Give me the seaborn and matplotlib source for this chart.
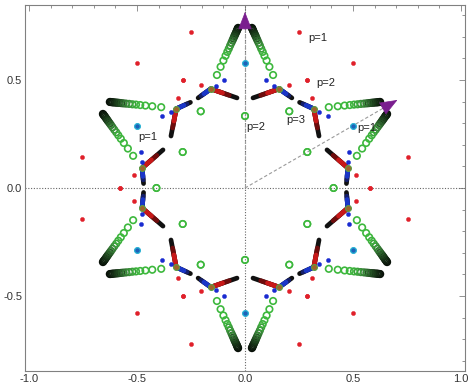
import numpy as np
import matplotlib
matplotlib.use("Agg")
import matplotlib.pyplot as plt
import seaborn as sns
from matplotlib.ticker import MultipleLocator

# ---------------- data (one 30-degree wedge, angles 60..90 deg) ----------------
# green trajectory arm (tip -> inward), dark near the tip
arm_x = [0.032, 0.034, 0.036, 0.038, 0.041, 0.044, 0.047, 0.050, 0.054,
         0.058, 0.063, 0.069, 0.075, 0.082, 0.090, 0.100, 0.113, 0.130]
arm_y = [0.741, 0.737, 0.732, 0.727, 0.721, 0.714, 0.708, 0.701, 0.692,
         0.683, 0.672, 0.659, 0.645, 0.630, 0.612, 0.590, 0.561, 0.523]
arm_colors = ["#080f08", "#0a140a", "#0c190c", "#0f1f0f", "#122612", "#152e15",
              "#193819", "#1e441e", "#245224", "#2b642b", "#337833", "#398c39",
              "#3b9e3b", "#3cae3c", "#3db63d", "#3db83d", "#3db83d", "#3db83d"]

# isolated green circles
green_x = [0.000, 0.205]
green_y = [0.333, 0.355]

# red points
red_x = [0.252, 0.289, 0.204]
red_y = [0.724, 0.500, 0.477]

# small blue points
blue_x = [0.097, 0.134]
blue_y = [0.500, 0.472]

# large blue points (cyan edge)
bigblue_x = [0.000]
bigblue_y = [0.577]

# junction of red / blue branches
junc_x = [0.158]
junc_y = [0.459]

# red branch: junction -> bright end -> dark-red end -> black end
red_branch_x = [0.158, 0.104, 0.073, 0.037]
red_branch_y = [0.459, 0.440, 0.429, 0.417]
# blue branch: junction -> blue end -> dark end -> black end
blue_branch_x = [0.158, 0.190, 0.203, 0.217]
blue_branch_y = [0.459, 0.436, 0.427, 0.417]

# arrows (angle in degrees, base radius, tip radius)
arrow_angles = [90, 30]
arrow_base_r = 0.735
arrow_tip_r = 0.815

# labels
label_text = ["p=1", "p=2", "p=3", "p=2", "p=1", "p=1"]
label_x = [0.338, 0.375, 0.236, 0.051, 0.565, -0.449]
label_y = [0.694, 0.486, 0.315, 0.282, 0.278, 0.236]

xticks = [-1.0, -0.5, 0.0, 0.5, 1.0]
yticks = [-0.5, 0.0, 0.5]


# ---------------- symmetry (dihedral group of the hexagram) ----------------
def d6(x, y):
    x = np.asarray(x, float)
    y = np.asarray(y, float)
    xs, ys = [], []
    for m in (1, -1):
        for k in range(6):
            a = np.deg2rad(60 * k)
            xm = m * x
            xs.append(xm * np.cos(a) - y * np.sin(a))
            ys.append(xm * np.sin(a) + y * np.cos(a))
    return np.concatenate(xs), np.concatenate(ys)


sns.set_theme(style="white")
plt.rcParams["font.family"] = ["Liberation Sans", "DejaVu Sans"]
plt.rcParams["axes.unicode_minus"] = False

fig = plt.figure(figsize=(4.74, 3.86), dpi=100)
ax = fig.add_axes([25 / 474, 15 / 386, 440 / 474, 366 / 386])
ax.set_xlim(-1.0185, 1.0185)
ax.set_ylim(-0.847, 0.847)

# axes through origin
ax.axhline(0, color="#666666", lw=0.8, ls=(0, (1, 1.5)), zorder=1)
ax.axvline(0, color="#666666", lw=0.8, ls=(0, (1, 1.5)), zorder=1)

# dashed guide lines to arrows
for ang in arrow_angles:
    t = np.deg2rad(ang)
    ax.plot([0, arrow_base_r * np.cos(t)], [0, arrow_base_r * np.sin(t)],
            color="#9a9a9a", lw=0.8, ls=(0, (3, 2)), zorder=1.5)


def dots(x, y, s, face, edge, lw, z):
    sns.scatterplot(x=x, y=y, ax=ax, s=s, color=edge, facecolor=face,
                    edgecolor=edge, linewidth=lw, zorder=z, legend=False)


# green arms
ax_, ay_ = d6(arm_x, arm_y)
cols = arm_colors * 12
sns.scatterplot(x=ax_, y=ay_, ax=ax, s=22, facecolor="none", edgecolor=cols,
                linewidth=1.2, zorder=2, legend=False)

# isolated green circles
gx, gy = d6(green_x, green_y)
sns.scatterplot(x=gx, y=gy, ax=ax, s=22, facecolor="none", edgecolor="#3db83d",
                linewidth=1.1, zorder=2, legend=False)


# branches
def branch(bx, by, cmain, cdark):
    X, Y = [], []
    for i in range(4):
        xi, yi = d6([bx[i]], [by[i]])
        X.append(xi)
        Y.append(yi)
    for j in range(12):
        ax.plot([X[0][j], X[3][j]], [Y[0][j], Y[3][j]], color="#111111", lw=3.4,
                solid_capstyle="round", zorder=3)
        ax.plot([X[0][j], X[2][j]], [Y[0][j], Y[2][j]], color=cdark, lw=3.4,
                solid_capstyle="round", zorder=3.1)
        ax.plot([X[0][j], X[1][j]], [Y[0][j], Y[1][j]], color=cmain, lw=3.4,
                solid_capstyle="round", zorder=3.2)


branch(red_branch_x, red_branch_y, "#c81818", "#6e0c0c")
branch(blue_branch_x, blue_branch_y, "#1a36c8", "#141e6a")

# points
rx, ry = d6(red_x, red_y)
dots(rx, ry, 9, "#e0202a", "#e0202a", 0.3, 4)
bx, by = d6(blue_x, blue_y)
dots(bx, by, 9, "#1a2bd0", "#1a2bd0", 0.3, 4)
bbx, bby = d6(bigblue_x, bigblue_y)
dots(bbx, bby, 16, "#1d62b8", "#2cb6d6", 0.8, 4)
jx, jy = d6(junc_x, junc_y)
dots(jx, jy, 18, "#a0642a", "#5aa044", 0.8, 4.5)

# arrows
for ang in arrow_angles:
    t = np.deg2rad(ang)
    ax.annotate("", xy=(arrow_tip_r * np.cos(t), arrow_tip_r * np.sin(t)),
                xytext=(arrow_base_r * np.cos(t), arrow_base_r * np.sin(t)),
                arrowprops=dict(arrowstyle="-|>,head_length=1.15,head_width=0.45",
                                mutation_scale=10, color="#7a1e8e", lw=0.5,
                                shrinkA=0, shrinkB=0), zorder=6)

# labels
for t, x, y in zip(label_text, label_x, label_y):
    ax.text(x, y, t, fontsize=8, color="#222222", ha="center", va="center", zorder=7)

# frame & ticks
for sp in ax.spines.values():
    sp.set_color("#808080")
    sp.set_linewidth(0.8)
ax.set_xticks(xticks)
ax.set_yticks(yticks)
ax.set_xticklabels([f"{v:.1f}" for v in xticks])
ax.set_yticklabels([f"{v:.1f}" for v in yticks])
ax.xaxis.set_minor_locator(MultipleLocator(0.1))
ax.yaxis.set_minor_locator(MultipleLocator(0.1))
ax.tick_params(which="both", direction="in", top=True, right=True,
               colors="#808080", labelcolor="#333333", labelsize=8, width=0.6)
ax.tick_params(which="major", length=4, pad=2)
ax.tick_params(which="minor", length=2)
ax.set_xlabel("")
ax.set_ylabel("")
ax.grid(False)

fig.savefig("out.png", dpi=100)
